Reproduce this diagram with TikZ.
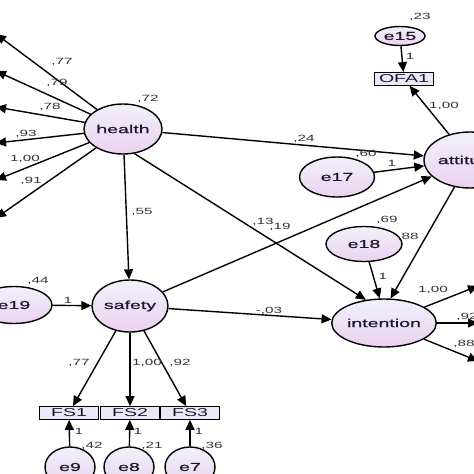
\documentclass[tikz,border=0pt]{standalone}
\usepackage{fontspec}
\newfontfamily\amosfont{Liberation Sans}[FakeStretch=1.7]
\newfontfamily\amosname{Liberation Sans}[FakeStretch=1.7, FakeBold=0.6]
\usetikzlibrary{positioning,shapes.geometric,arrows.meta}
\tikzset{font=\amosfont}
\definecolor{latlo}{RGB}{242,240,252}
\definecolor{lathi}{RGB}{234,210,238}
\definecolor{boxfill}{RGB}{236,230,246}
\definecolor{coefgray}{RGB}{50,50,55}
\definecolor{nametext}{RGB}{25,25,45}

\begin{document}
\begin{tikzpicture}[x=1pt, y=-1pt,
	latent/.style={ellipse, draw, line width=1.4pt, top color=latlo, bottom color=lathi,
		inner sep=0pt, text=nametext, font=\amosname\fontsize{11.5}{12}\selectfont},
	obsbox/.style={rectangle, draw, line width=1.3pt, fill=boxfill, inner sep=0pt,
		minimum width=59pt, minimum height=12.5pt, text=nametext,
		font=\amosfont\fontsize{11.5}{12}\selectfont},
	coef/.style={inner sep=0pt, text=coefgray, font=\amosfont\fontsize{9}{10}\selectfont},
	reg/.style={-{Triangle[length=10pt,width=9pt]}, line width=1.4pt}]
	\useasboundingbox (0,0) rectangle (474,474);
	\clip (0,0) rectangle (474,474);

	% latent variables
	\node[latent, minimum width=78pt, minimum height=50pt] (health) at (123,129) {health};
	\node[latent, minimum width=76pt, minimum height=52pt] (safety) at (130,306) {safety};
	\node[latent, minimum width=92pt, minimum height=56pt] (attitude) at (470,160) {attitude};
	\node[latent, minimum width=76pt, minimum height=48pt] (intention) at (384,323) {intention};

	% errors
	\node[latent, minimum width=50pt, minimum height=19pt] (e15) at (400,36) {e15};
	\node[latent, minimum width=75pt, minimum height=40pt] (e17) at (337,177) {e17};
	\node[latent, minimum width=76pt, minimum height=35pt] (e18) at (364,244) {e18};
	\node[latent, minimum width=76pt, minimum height=37pt] (e19) at (14,305) {e19};
	\node[latent, minimum width=50pt, minimum height=40pt] (e9) at (70,467) {e9};
	\node[latent, minimum width=50pt, minimum height=40pt] (e8) at (129,467) {e8};
	\node[latent, minimum width=50pt, minimum height=40pt] (e7) at (190,467) {e7};

	% observed
	\node[obsbox] (ofa1) at (404,79) {OFA1};
	\node[obsbox] (fs1) at (69,413) {FS1};
	\node[obsbox] (fs2) at (130,413) {FS2};
	\node[obsbox] (fs3) at (190,413) {FS3};

	% indicators cut off by the frame
	\coordinate (hv1) at (-4,34);
	\coordinate (hv2) at (-4,71);
	\coordinate (hv3) at (-4,107);
	\coordinate (hv4) at (-4,143);
	\coordinate (hv5) at (-4,180);
	\coordinate (hv6) at (-4,218);
	\coordinate (av2) at (490,118);
	\coordinate (iv1) at (478,286);
	\coordinate (iv2) at (478,323);
	\coordinate (iv3) at (478,361);

	\foreach \t in {hv1,hv2,hv3,hv4,hv5,hv6}
		\draw[reg] (health) -- (\t);
	\draw[reg] (attitude) -- (ofa1);
	\draw[line width=1.4pt] (attitude) -- (av2);
	\draw[reg] (e15) -- (ofa1);
	\draw[reg] (health) -- (attitude);
	\draw[reg] (e17) -- (attitude);
	\draw[reg] (safety) -- (attitude);
	\draw[reg] (health.-65) -- (intention.128);
	\draw[reg] (health) -- (safety);
	\draw[reg] (safety) -- (intention);
	\draw[reg] (e18) -- (intention.100);
	\draw[reg] (attitude) -- (intention.75);
	\draw[reg] (e19) -- (safety);
	\foreach \t in {iv1,iv2,iv3}
		\draw[reg] (intention) -- (\t);
	\draw[reg] (safety) -- (fs1);
	\draw[reg] (safety) -- (fs2);
	\draw[reg] (safety) -- (fs3);
	\draw[reg] (e9) -- (fs1);
	\draw[reg] (e8) -- (fs2);
	\draw[reg] (e7) -- (fs3);

	% estimates
	\node[coef] (c1) at (62,62) {,77};
	\node[coef] (c2) at (57,83) {,79};
	\node[coef] (c3) at (50,107) {,78};
	\node[coef] (c4) at (26,134) {,93};
	\node[coef] (c5) at (25,159) {1,00};
	\node[coef] (c6) at (31,181) {,91};
	\node[coef] (c7) at (148,99) {,72};
	\node[coef] (c8) at (142,212) {,55};
	\node[coef] (c9) at (420,17) {,23};
	\node[coef] (c10) at (410,56) {1};
	\node[coef] (c11) at (444,106) {1,00};
	\node[coef] (c12) at (304,139) {,24};
	\node[coef] (c13) at (366,154) {,60};
	\node[coef] (c14) at (392,163) {1};
	\node[coef] (c15) at (263,222) {,13};
	\node[coef] (c16) at (280,227) {,19};
	\node[coef] (c17) at (387,220) {,69};
	\node[coef] (c18) at (408,237) {,88};
	\node[coef] (c19) at (383,276) {1};
	\node[coef] (c20) at (269,311) {-,03};
	\node[coef] (c21) at (433,290) {1,00};
	\node[coef] (c22) at (467,317) {,92};
	\node[coef] (c23) at (464,344) {,88};
	\node[coef] (c24) at (38,281) {,44};
	\node[coef] (c25) at (68,300) {1};
	\node[coef] (c26) at (79,363) {,77};
	\node[coef] (c27) at (147,363) {1,00};
	\node[coef] (c28) at (180,363) {,92};
	\node[coef] (c29) at (79,431) {1};
	\node[coef] (c30) at (138,431) {1};
	\node[coef] (c31) at (199,431) {1};
	\node[coef] (c32) at (92,446) {,42};
	\node[coef] (c33) at (152,446) {,21};
	\node[coef] (c34) at (212,446) {,36};
\end{tikzpicture}
\end{document}
